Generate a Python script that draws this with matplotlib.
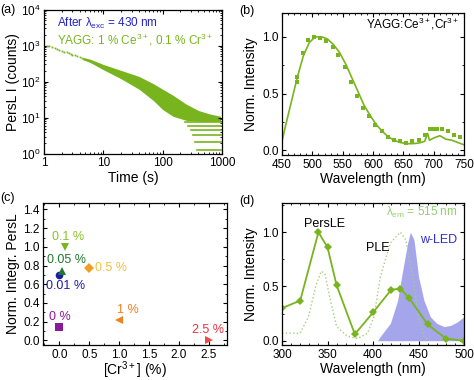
import matplotlib as mpl
mpl.use('Agg')
import matplotlib.pyplot as plt
import numpy as np
from matplotlib.ticker import MultipleLocator, LogLocator, NullFormatter

# ---------------- data ----------------
# (a) persistent luminescence decay
t_early = [1.1, 1.2, 1.35, 1.5, 1.65, 1.8, 2.0, 2.2, 2.4, 2.6, 2.8, 3.0, 3.3, 3.6, 4.0, 4.4, 4.8]
i_early = [1000, 960, 900, 850, 810, 770, 720, 680, 650, 620, 590, 565, 535, 505, 480, 455, 430]
t_band = [4.5, 6, 10, 20, 40, 70, 100, 150, 250, 400, 600, 950]
i_upper = [470, 420, 300, 205, 140, 88, 62, 42, 24, 16, 13, 11]
i_lower = [410, 340, 215, 120, 62, 30, 17, 11, 8.5, 8, 8, 8]
lvl_counts = [1.25, 2.1, 3.3, 4.6, 6.0, 7.5]
lvl_start = [380, 350, 330, 300, 270, 240]
lvl_end = [950, 950, 950, 950, 950, 950]

# (b) emission spectrum
wl_line = [450, 455, 465, 475, 485, 495, 505, 515, 525, 535, 545, 555, 565, 575, 585,
           595, 605, 615, 625, 635, 645, 655, 665, 675, 685, 690, 693, 700, 710, 720,
           730, 740, 750]
em_line = [0.08, 0.2, 0.42, 0.64, 0.83, 0.95, 1.0, 1.0, 0.98, 0.93, 0.86, 0.76, 0.64,
           0.52, 0.40, 0.31, 0.23, 0.17, 0.12, 0.09, 0.07, 0.06, 0.06, 0.065, 0.08, 0.15,
           0.09, 0.11, 0.13, 0.10, 0.09, 0.07, 0.05]
wl_dots = [474, 474, 485, 493, 503, 513, 522, 534, 543, 554, 564, 574, 584, 594, 604,
           614, 625, 635, 645, 654, 664, 675, 685, 694, 698, 702, 706, 714, 724, 734, 744]
em_dots = [0.65, 0.60, 0.86, 0.97, 1.0, 0.99, 0.96, 0.91, 0.84, 0.73, 0.60, 0.48, 0.37,
           0.30, 0.22, 0.17, 0.12, 0.09, 0.08, 0.07, 0.08, 0.09, 0.14, 0.19, 0.19, 0.19,
           0.19, 0.19, 0.17, 0.14, 0.12]

# (c) integrated PersL vs Cr content
cr_conc = [0.0, 0.0, 0.05, 0.1, 0.5, 1.0, 2.5]
persl_int = [0.14, 0.70, 0.74, 1.0, 0.77, 0.22, 0.0]
cr_labels = ['0 %', '0.01 %', '0.05 %', '0.1 %', '0.5 %', '1 %', '2.5 %']
cr_markers = ['s', 'o', '^', 'v', 'D', '<', '>']
cr_colors = ['#8a1a9a', '#1c1ca8', '#1f7a2c', '#78b41e', '#f0a020', '#f08020', '#f04848']
lbl_colors = ['#8a1a9a', '#1c1ca8', '#1f7a2c', '#8cc02c', '#f0c040', '#f08020', '#f03040']
lbl_xy = [(0.01, 0.25), (0.11, 0.58), (0.12, 0.86), (0.15, 1.11), (0.86, 0.77), (1.15, 0.33), (2.49, 0.11)]

# (d) excitation spectra
wl_persle = [300, 320, 340, 350, 360, 380, 400, 420, 430, 440, 460, 480, 500]
persle = [0.30, 0.37, 1.0, 0.86, 0.51, 0.06, 0.26, 0.47, 0.48, 0.39, 0.15, 0.02, 0.0]
wl_ple = [300, 320, 329, 337, 343, 347, 353, 360, 372, 383, 394, 401, 408, 419, 430,
          436, 443, 450, 456, 462]
ple = [0.07, 0.07, 0.22, 0.50, 0.64, 0.62, 0.38, 0.13, 0.04, 0.02, 0.07, 0.22, 0.59,
       0.90, 1.0, 0.93, 0.62, 0.22, 0.04, 0.0]
wl_led = [405, 408, 419, 427, 432, 438, 441, 445, 450, 456, 463, 470, 478, 485, 492, 500]
led = [0.0, 0.04, 0.16, 0.37, 0.62, 0.90, 1.0, 0.93, 0.59, 0.37, 0.22, 0.16, 0.13, 0.14,
       0.17, 0.22]

green = '#78b41e'

plt.rcParams.update({
    'font.family': ['Liberation Sans', 'DejaVu Sans'],
    'font.size': 8.5,
    'axes.labelsize': 10,
    'xtick.labelsize': 8.5,
    'ytick.labelsize': 8.5,
    'xtick.direction': 'in',
    'ytick.direction': 'in',
    'xtick.top': True,
    'ytick.right': True,
    'xtick.major.size': 3,
    'ytick.major.size': 3,
    'xtick.minor.size': 1.6,
    'ytick.minor.size': 1.6,
    'xtick.major.pad': 2.5,
    'ytick.major.pad': 2.5,
    'axes.linewidth': 0.9,
    'mathtext.fontset': 'custom',
    'mathtext.rm': 'Liberation Sans',
    'mathtext.it': 'Liberation Sans',
})

fig = plt.figure(figsize=(4.74, 3.8), dpi=100)
ax_a = fig.add_axes([0.093, 0.595, 0.375, 0.38])
ax_b = fig.add_axes([0.595, 0.592, 0.384, 0.374])
ax_c = fig.add_axes([0.091, 0.092, 0.388, 0.374])
ax_d = fig.add_axes([0.595, 0.092, 0.384, 0.374])

# ---- (a)
ax_a.fill_between(t_band, i_lower, i_upper, color=green, lw=0)
ax_a.plot(t_early, i_early, ls='none', marker='s', ms=1.3, color=green, mew=0)
for c, s, e in zip(lvl_counts, lvl_start, lvl_end):
    ax_a.plot([s, e], [c, c], color=green, lw=1.2)
ax_a.set_xscale('log')
ax_a.set_yscale('log')
ax_a.set_xlim(1, 1000)
ax_a.set_ylim(1, 1e4)
ax_a.set_xticks([1, 10, 100, 1000])
ax_a.set_xticklabels(['1', '10', '100', '1000'])
ax_a.yaxis.set_minor_locator(LogLocator(base=10, subs=np.arange(2, 10)))
ax_a.yaxis.set_minor_formatter(NullFormatter())
ax_a.xaxis.set_minor_locator(LogLocator(base=10, subs=np.arange(2, 10)))
ax_a.xaxis.set_minor_formatter(NullFormatter())
ax_a.set_xlabel('Time (s)', labelpad=1)
ax_a.set_ylabel('PersL I (counts)', labelpad=1)
ax_a.text(0.073, 0.88, r'After $\lambda_{\rm exc}$ = 430 nm', transform=ax_a.transAxes,
          color='#2424c8', fontsize=8.5)
ax_a.text(0.073, 0.755, r'YAGG: 1 % Ce$^{3+}$, 0.1 % Cr$^{3+}$', transform=ax_a.transAxes,
          color=green, fontsize=8.5)

# ---- (b)
ax_b.plot(wl_line, em_line, color=green, lw=1.2)
ax_b.plot(wl_dots, em_dots, ls='none', marker='s', ms=3, color=green, mew=0)
ax_b.set_xlim(450, 750)
ax_b.set_ylim(-0.04, 1.21)
ax_b.xaxis.set_major_locator(MultipleLocator(50))
ax_b.xaxis.set_minor_locator(MultipleLocator(10))
ax_b.yaxis.set_major_locator(MultipleLocator(0.5))
ax_b.yaxis.set_minor_locator(MultipleLocator(0.25))
ax_b.set_xlabel('Wavelength (nm)', labelpad=1)
ax_b.set_ylabel('Norm. Intensity', labelpad=3)
ax_b.text(0.97, 0.89, r'YAGG:Ce$^{3+}$,Cr$^{3+}$', transform=ax_b.transAxes,
          ha='right', fontsize=8.5)

# ---- (c)
for x, y, m, col in zip(cr_conc, persl_int, cr_markers, cr_colors):
    ax_c.plot(x, y, ls='none', marker=m, ms=5.5, color=col, mew=0)
for (lx, ly), lab, col in zip(lbl_xy, cr_labels, lbl_colors):
    ax_c.text(lx, ly, lab, color=col, ha='center', va='center', fontsize=9)
ax_c.set_xlim(-0.27, 2.8)
ax_c.set_ylim(-0.05, 1.47)
ax_c.xaxis.set_major_locator(MultipleLocator(0.5))
ax_c.xaxis.set_minor_locator(MultipleLocator(0.25))
ax_c.yaxis.set_major_locator(MultipleLocator(0.2))
ax_c.yaxis.set_minor_locator(MultipleLocator(0.1))
ax_c.set_xlabel(r'[Cr$^{3+}$] (%)', labelpad=-1)
ax_c.set_ylabel('Norm. Integr. PersL', labelpad=2)

# ---- (d)
ax_d.plot(wl_ple, ple, color='#a8cc80', lw=1.0, ls=':')
ax_d.plot(wl_persle, persle, color=green, lw=1.3, marker='D', ms=4.5, mew=0)
ax_d.fill_between(wl_led, 0, led, color='#6a6ae0', alpha=0.6, lw=0)
ax_d.set_xlim(300, 500)
ax_d.set_ylim(-0.04, 1.27)
ax_d.xaxis.set_major_locator(MultipleLocator(50))
ax_d.xaxis.set_minor_locator(MultipleLocator(10))
ax_d.yaxis.set_major_locator(MultipleLocator(0.5))
ax_d.yaxis.set_minor_locator(MultipleLocator(0.25))
ax_d.set_xlabel('Wavelength (nm)', labelpad=1)
ax_d.set_ylabel('Norm. Intensity', labelpad=3)
ax_d.text(347, 1.08, 'PersLE', ha='center', va='center', fontsize=9)
ax_d.text(405, 0.85, 'PLE', ha='center', va='center', fontsize=9)
ax_d.text(472, 0.93, 'w-LED', ha='center', va='center', fontsize=9, color='#3030d0')
ax_d.text(0.965, 0.935, r'$\lambda_{\rm em}$ = 515 nm', transform=ax_d.transAxes,
          ha='right', va='center', fontsize=8.5, color='#94d070')

# panel letters
fig.text(0.0, 0.975, '(a)', fontsize=9, va='center')
fig.text(0.505, 0.972, '(b)', fontsize=9, va='center')
fig.text(0.0, 0.478, '(c)', fontsize=9, va='center')
fig.text(0.505, 0.472, '(d)', fontsize=9, va='center')

fig.savefig('out.png', dpi=100)
